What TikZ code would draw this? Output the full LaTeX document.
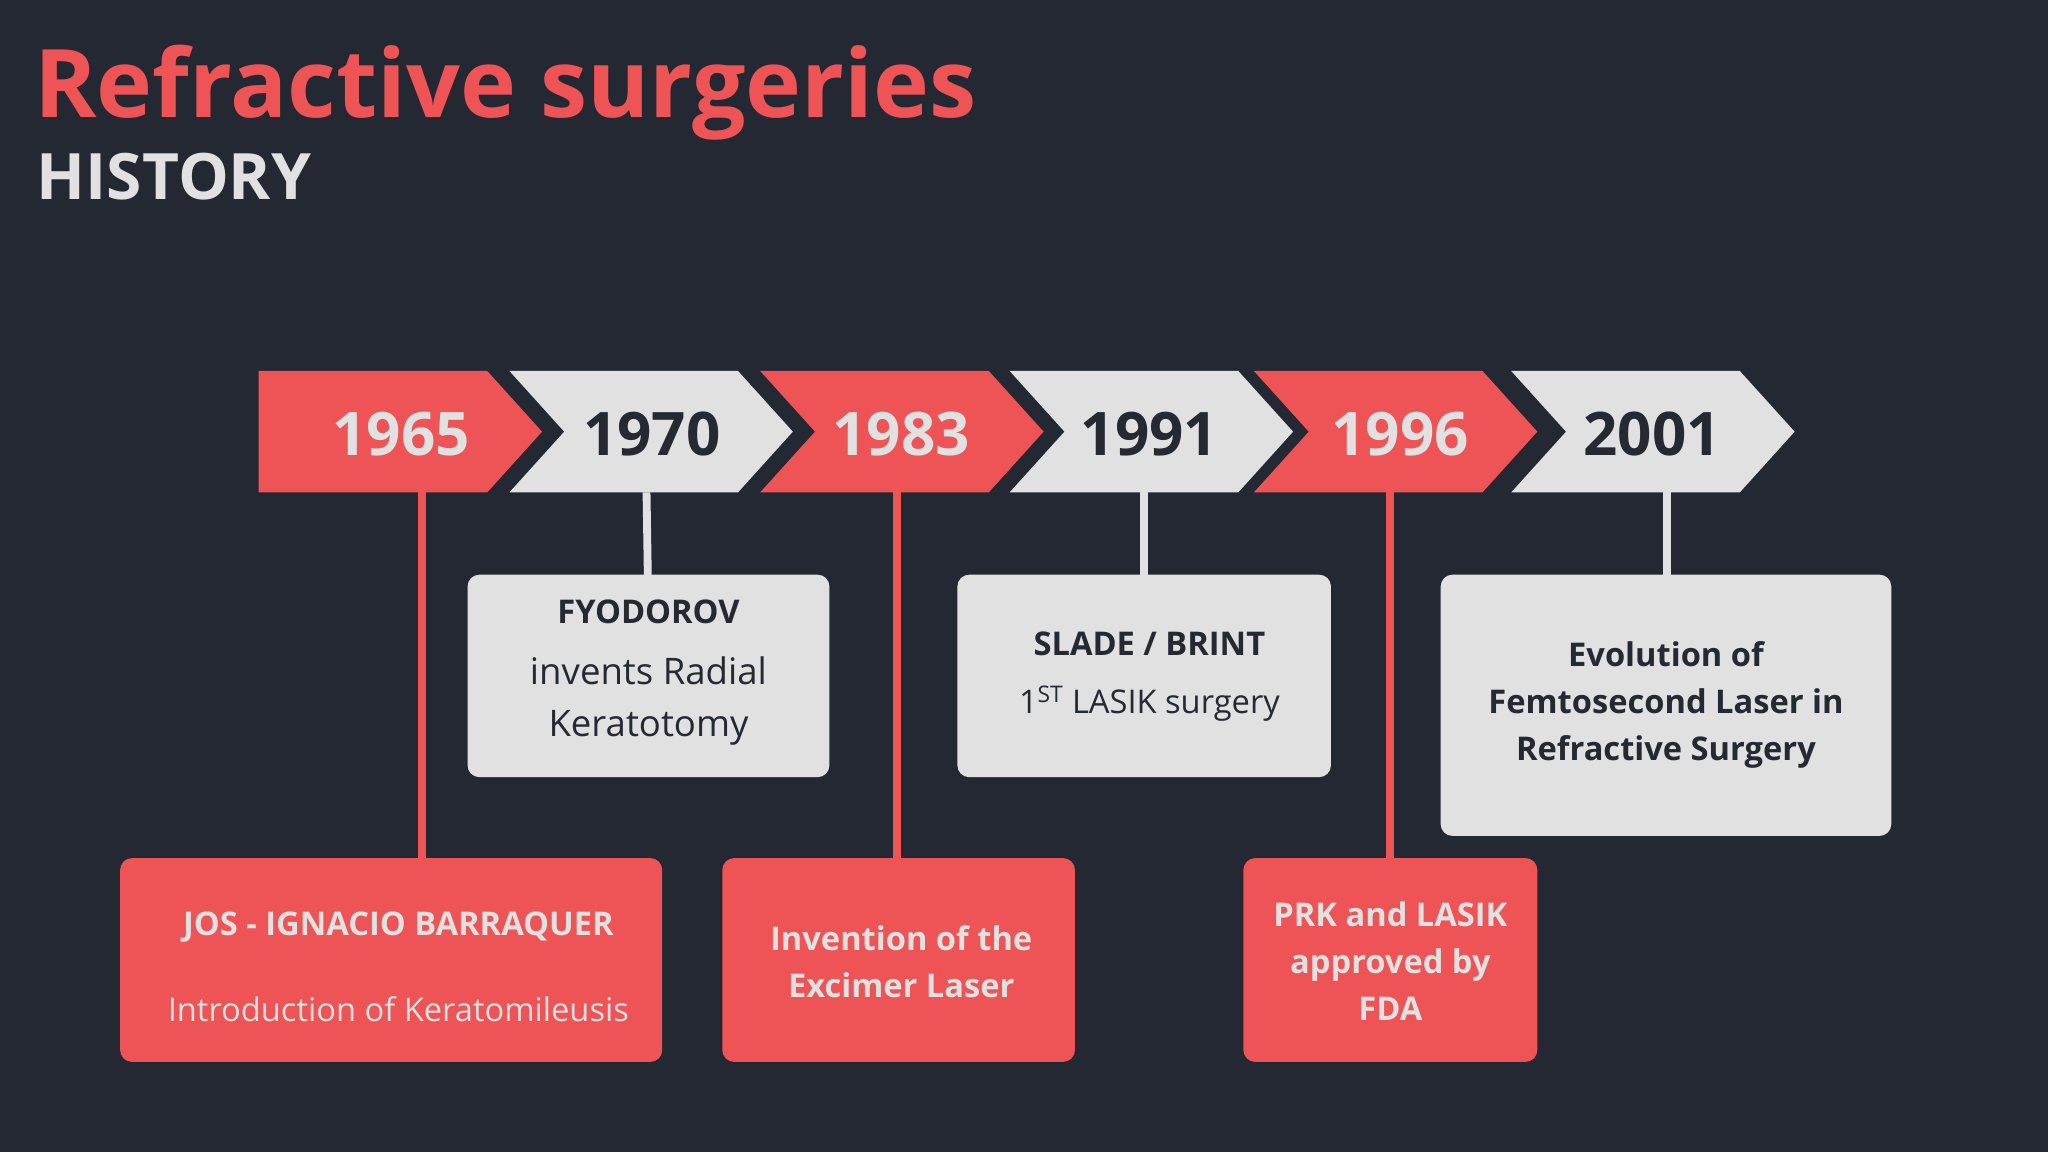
\documentclass[tikz,border=0pt]{standalone}
\usepackage{fontspec}
\setmainfont{Open Sans}
\begin{document}
\begin{tikzpicture}[x=1pt,y=-1pt]
\definecolor{bg}{HTML}{242832}
\definecolor{rd}{HTML}{EE5355}
\definecolor{gy}{HTML}{E1E1E1}
\definecolor{dk}{HTML}{252932}
\tikzset{
 year/.style={font=\fontsize{46}{50}\selectfont\bfseries},
 gbox/.style={fill=gy,rounded corners=9pt,text=dk,align=center},
 rbox/.style={fill=rd,rounded corners=9pt,text=gy,align=center},
 rline/.style={rd,line width=6pt},
 gline/.style={gy,line width=6pt},
}
\fill[bg] (0,0) rectangle (1568,882);
\useasboundingbox (0,0) rectangle (1568,882);
\node[anchor=base west,inner sep=0,text=rd,font=\fontsize{72.5}{76}\selectfont\bfseries] (title) at (26,90) {Refractive surgeries};
\node[anchor=base west,inner sep=0,text=gy,font=\fontsize{49}{54}\selectfont\bfseries] (hist) at (28,153) {HISTORY};
% chevrons
\fill[rd] (198,284) -- (373,284) -- (415,330.5) -- (373,377) -- (198,377) -- cycle;
\foreach \x/\c in {390/gy,582/rd,773/gy,960/rd,1157/gy}{
 \fill[\c] (\x,284) -- (\x+175,284) -- (\x+217,330.5) -- (\x+175,377) -- (\x,377) -- (\x+42,330.5) -- cycle;}
% lines
\draw[rline] (323,377) -- (323,660);
\draw[rline] (687,377) -- (687,660);
\draw[rline] (1064,377) -- (1064,660);
\draw[gline] (495,377) -- (496,442);
\draw[gline] (876,377) -- (876,442);
\draw[gline] (1276,377) -- (1276,442);
\node[year,text=gy] (y1) at (307,332) {1965};
\node[year,text=dk] (y2) at (499,332) {1970};
\node[year,text=gy] (y3) at (690,332) {1983};
\node[year,text=dk] (y4) at (880,332) {1991};
\node[year,text=gy] (y5) at (1072,332) {1996};
\node[year,text=dk] (y6) at (1265,332) {2001};
% gray boxes
\node[gbox,minimum width=277pt,minimum height=155pt] (b1) at (496.5,517.5) {};
\node[text=dk,align=center,font=\fontsize{28}{40}\selectfont] at (496.5,515) {\fontsize{25}{30}\selectfont\bfseries FYODOROV\\[6pt]invents Radial\\Keratotomy};
\node[gbox,minimum width=286pt,minimum height=155pt] (b2) at (876,517.5) {};
\node[text=dk,align=center,font=\fontsize{25}{45}\selectfont] at (880,518) {\bfseries SLADE / BRINT\\1\textsuperscript{ST} LASIK surgery};
\node[gbox,minimum width=345pt,minimum height=200pt] (b3) at (1275.5,540) {};
\node[text=dk,align=center,font=\fontsize{25}{36}\selectfont\bfseries] at (1275.5,540) {Evolution of\\Femtosecond Laser in\\Refractive Surgery};
% red boxes
\node[rbox,minimum width=415pt,minimum height=156pt] (r1) at (299.5,735) {};
\node[text=gy,align=center,font=\fontsize{25}{66}\selectfont] at (305,740) {\bfseries JOS - IGNACIO BARRAQUER\\Introduction of Keratomileusis};
\node[rbox,minimum width=270pt,minimum height=156pt] (r2) at (688,735) {};
\node[text=gy,align=center,font=\fontsize{25}{36}\selectfont\bfseries] at (690,736) {Invention of the\\Excimer Laser};
\node[rbox,minimum width=225pt,minimum height=156pt] (r3) at (1064.5,735) {};
\node[text=gy,align=center,font=\fontsize{25}{36}\selectfont\bfseries] at (1064.5,736) {PRK and LASIK\\approved by\\FDA};
\end{tikzpicture}
\end{document}
